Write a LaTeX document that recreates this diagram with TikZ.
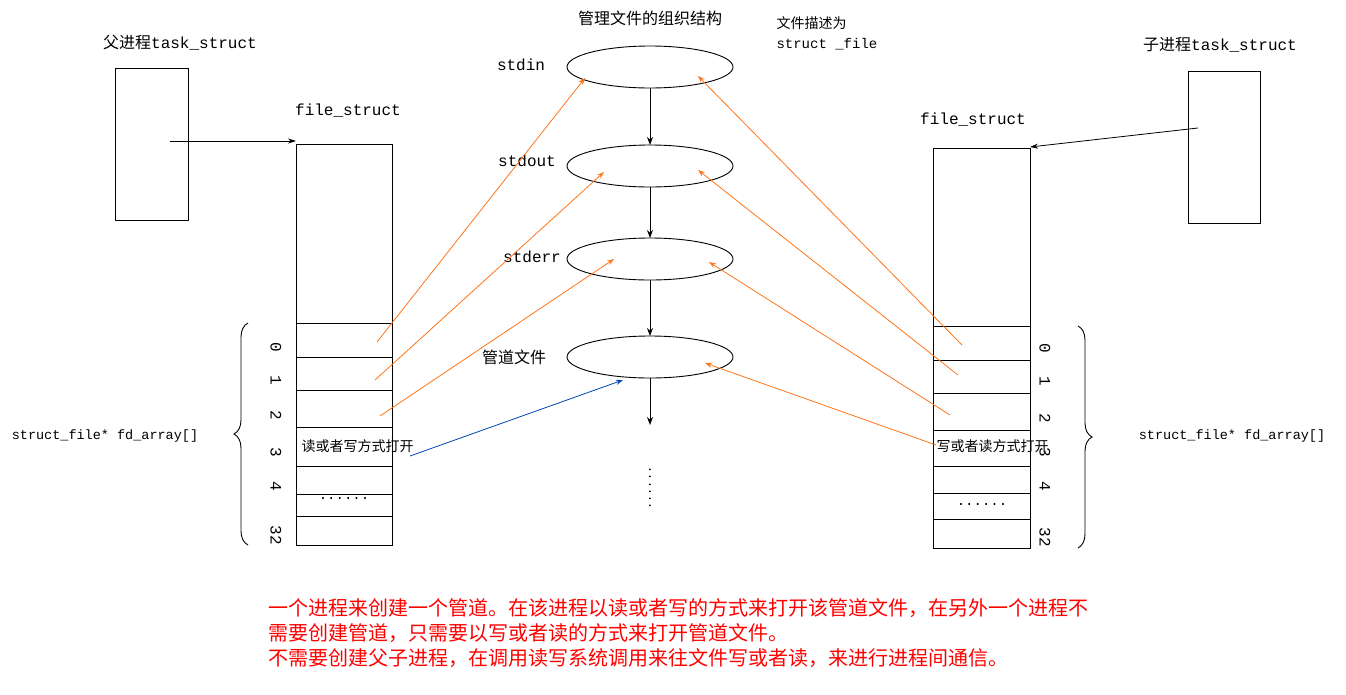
\documentclass[tikz,border=0pt]{standalone}
\usepackage{fontspec}
\setmainfont{Liberation Mono}
\newfontfamily\cjk{Noto Sans CJK SC}
\usetikzlibrary{decorations.pathreplacing,arrows.meta}
\tikzset{
  box/.style={draw, line width=0.9pt},
  fdlink/.style={draw=orange!80!red!90, line width=0.8pt, -{Stealth[length=7pt,width=5pt]}},
  rwlink/.style={draw=blue!60!cyan!70!black, line width=0.8pt, -{Stealth[length=7pt,width=5pt]}},
  chain/.style={line width=0.9pt, -{Stealth[length=8pt,width=6pt]}},
  lbl/.style={font=\fontsize{16}{18}\selectfont},
  cn/.style={font=\cjk\fontsize{16}{18}\selectfont},
  idx/.style={font=\fontsize{16}{18}\selectfont, rotate=-90}
}
\begin{document}
\begin{tikzpicture}[x=1pt,y=-1pt]
\useasboundingbox[fill=white] (0,0) rectangle (1346,694);
% task_struct boxes
\draw[box] (115,68) rectangle (188,220);
\draw[box] (1188,71) rectangle (1260,223);
\node[cn] (ptask) at (180,43) {父进程\fontspec{Liberation Mono}task\_struct};
\node[cn] (ctask) at (1220,45) {子进程\fontspec{Liberation Mono}task\_struct};
% file_struct tables
\node[lbl] (pfs) at (348,111) {file\_struct};
\node[lbl] (cfs) at (973,120) {file\_struct};
\draw[box] (296,144) rectangle (392,545);
\foreach \y in {323,357,390,427,466,494,516} \draw[box] (296,\y) -- (392,\y);
\draw[box] (933,148) rectangle (1030,548);
\foreach \y in {326,360,393,430,466,493,519} \draw[box] (933,\y) -- (1030,\y);
\coordinate (pin) at (170,141);
\coordinate (pfstop) at (296,141);
\coordinate (cin) at (1198,128);
\coordinate (cfstop) at (1030,147);
\draw[-{Stealth[length=8pt,width=5pt]}, line width=0.8pt] (pin) -- (pfstop);
\draw[-{Stealth[length=8pt,width=5pt]}, line width=0.8pt] (cin) -- (cfstop);
% indices
\foreach \y/\t in {347/0,380/1,415/2,452/3,486/4,535/32} \node[idx] at (276,\y) {\t};
\foreach \y/\t in {348/0,381/1,418/2,452/3,486/4,537/32} \node[idx] at (1045,\y) {\t};
\node[font=\fontsize{14}{16}\selectfont] at (344,498) {......};
\node[font=\fontsize{14}{16}\selectfont] at (982,504) {......};
\node[cn, font=\cjk\fontsize{14}{16}\selectfont, anchor=west] (prw) at (298,446) {读或者写方式打开};
\node[cn, font=\cjk\fontsize{14}{16}\selectfont, anchor=west] (crw) at (933,446) {写或者读方式打开};
% braces
\draw[line width=0.9pt, decorate, decoration={brace, amplitude=14pt}] (248,545) -- (248,323);
\draw[line width=0.9pt, decorate, decoration={brace, amplitude=14pt}] (1078,326) -- (1078,548);
\node[lbl, font=\fontsize{13.5}{16}\selectfont] (pfd) at (105,436) {struct\_file* fd\_array[]};
\node[lbl, font=\fontsize{13.5}{16}\selectfont] (cfd) at (1232,436) {struct\_file* fd\_array[]};
% file objects
\node[cn] (title) at (650,18) {管理文件的组织结构};
\node[cn, font=\cjk\fontsize{14}{16}\selectfont, anchor=west] (desc) at (773,23) {文件描述为};
\node[lbl, font=\fontsize{14}{16}\selectfont, anchor=west] (desc2) at (773,44) {struct \_file};
\foreach \n/\y in {in/67,out/166,err/259,pipe/357}
  \draw[box] (650,\y) ellipse (83 and 21);
\node[lbl] (lin) at (521,65) {stdin};
\node[lbl] (lout) at (527,161) {stdout};
\node[lbl] (lerr) at (532,257) {stderr};
\node[cn] (lpipe) at (514,357) {管道文件};
\draw[chain] (650,88) -- (650,145);
\draw[chain] (650,187) -- (650,238);
\draw[chain] (650,280) -- (650,336);
\draw[chain] (650,378) -- (650,425);
\node[font=\fontsize{12}{14}\selectfont, rotate=90] (more) at (650,488) {......};
% links from fd tables
\draw[fdlink] (377,342) -- (585,78);
\draw[fdlink] (375,380) -- (604,172);
\draw[fdlink] (380,416) -- (614,259);
\draw[rwlink] (410,456) -- (623,380);
\draw[fdlink] (962,345) -- (698,76);
\draw[fdlink] (958,375) -- (698,170);
\draw[fdlink] (950,415) -- (709,262);
\draw[fdlink] (936,445) -- (705,363);
% note
\node[cn, font=\cjk\fontsize{20}{25}\selectfont, text=red, anchor=north west, align=left, inner sep=0pt] (note) at (268,598)
  {一个进程来创建一个管道。在该进程以读或者写的方式来打开该管道文件，在另外一个进程不\\需要创建管道，只需要以写或者读的方式来打开管道文件。\\不需要创建父子进程，在调用读写系统调用来往文件写或者读，来进行进程间通信。};
\end{tikzpicture}
\end{document}
